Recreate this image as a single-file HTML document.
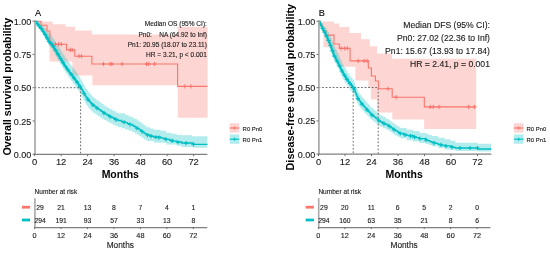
<!DOCTYPE html><html><head><meta charset="utf-8"><style>html,body{margin:0;padding:0;background:#fff;overflow:hidden}svg{display:block;filter:blur(0.3px);font-family:"Liberation Sans", sans-serif;}</style></head><body>
<svg width="550" height="253" viewBox="0 0 550 253">
<rect width="550" height="253" fill="#fff"/>
<path d="M38.60,21.40 L52.70,21.40 L52.70,24.20 L65.60,24.20 L65.60,26.80 L75.10,26.80 L75.10,30.40 L91.90,30.40 L91.90,34.40 L177.80,34.40 L177.80,26.70 L207.60,26.70 L207.60,117.80 L177.80,117.80 L177.80,85.20 L92.40,85.20 L92.40,75.60 L72.40,75.60 L72.40,61.40 L49.50,61.40 L49.50,42.50 L47.50,38.50 L45.00,33.50 L42.50,29.50 L40.60,26.50 L40.60,24.00 L38.60,24.00 Z" fill="#F8766D" fill-opacity="0.30"/>
<path d="M34.60,21.20 L36.00,21.20 L36.00,21.00 L38.07,21.00 L38.07,22.33 L40.13,22.33 L40.13,23.67 L42.20,23.67 L42.20,25.00 L43.47,25.00 L43.47,26.50 L44.73,26.50 L44.73,28.00 L46.00,28.00 L46.00,29.50 L46.75,29.50 L46.75,30.75 L47.50,30.75 L47.50,32.00 L48.25,32.00 L48.25,33.25 L49.00,33.25 L49.00,34.50 L51.70,34.50 L51.70,36.50 L52.56,36.50 L52.56,37.80 L53.42,37.80 L53.42,39.10 L54.28,39.10 L54.28,40.40 L55.14,40.40 L55.14,41.70 L56.00,41.70 L56.00,43.00 L56.84,43.00 L56.84,44.30 L57.68,44.30 L57.68,45.60 L58.52,45.60 L58.52,46.90 L59.36,46.90 L59.36,48.20 L60.20,48.20 L60.20,49.50 L61.04,49.50 L61.04,50.90 L61.88,50.90 L61.88,52.30 L62.72,52.30 L62.72,53.70 L63.56,53.70 L63.56,55.10 L64.40,55.10 L64.40,56.50 L65.40,56.50 L65.40,57.90 L66.40,57.90 L66.40,59.30 L67.40,59.30 L67.40,60.70 L68.40,60.70 L68.40,62.10 L69.40,62.10 L69.40,63.50 L70.35,63.50 L70.35,64.75 L71.30,64.75 L71.30,66.00 L72.25,66.00 L72.25,67.25 L73.20,67.25 L73.20,68.50 L74.33,68.50 L74.33,70.03 L75.45,70.03 L75.45,71.55 L76.58,71.55 L76.58,73.07 L77.70,73.07 L77.70,74.60 L78.47,74.60 L78.47,75.90 L79.25,75.90 L79.25,77.20 L80.03,77.20 L80.03,78.50 L80.80,78.50 L80.80,79.80 L81.54,79.80 L81.54,81.11 L82.29,81.11 L82.29,82.43 L83.03,82.43 L83.03,83.74 L83.77,83.74 L83.77,85.06 L84.51,85.06 L84.51,86.37 L85.26,86.37 L85.26,87.69 L86.00,87.69 L86.00,89.00 L87.17,89.00 L87.17,90.57 L88.33,90.57 L88.33,92.13 L89.50,92.13 L89.50,93.70 L91.00,93.70 L91.00,95.40 L92.50,95.40 L92.50,97.10 L94.27,97.10 L94.27,98.43 L96.03,98.43 L96.03,99.77 L97.80,99.77 L97.80,101.10 L99.80,101.10 L99.80,102.57 L101.80,102.57 L101.80,104.03 L103.80,104.03 L103.80,105.50 L105.77,105.50 L105.77,106.73 L107.73,106.73 L107.73,107.97 L109.70,107.97 L109.70,109.20 L112.65,109.20 L112.65,110.80 L115.60,110.80 L115.60,112.40 L118.00,112.40 L118.00,113.30 L125.10,113.30 L125.10,115.10 L128.65,115.10 L128.65,116.40 L132.20,116.40 L132.20,117.70 L134.60,117.70 L134.60,119.10 L137.00,119.10 L137.00,120.50 L139.40,120.50 L139.40,121.90 L141.18,121.90 L141.18,123.22 L142.95,123.22 L142.95,124.55 L144.72,124.55 L144.72,125.87 L146.50,125.87 L146.50,127.20 L150.05,127.20 L150.05,128.50 L153.60,128.50 L153.60,129.80 L160.70,129.80 L160.70,130.70 L166.30,130.70 L166.30,132.70 L171.45,132.70 L171.45,133.85 L176.60,133.85 L176.60,135.00 L181.70,135.00 L181.70,135.30 L192.00,135.30 L192.00,136.30 L193.50,136.30 L193.50,136.30 L207.40,136.30 L207.40,136.30 L207.40,147.80 L207.40,147.80 L193.50,147.80 L193.50,147.10 L192.00,147.10 L192.00,147.10 L181.70,147.10 L181.70,145.80 L176.60,145.80 L176.60,144.60 L166.30,144.60 L166.30,142.80 L160.70,142.80 L160.70,142.60 L153.60,142.60 L153.60,141.00 L146.50,141.00 L146.50,139.40 L144.13,139.40 L144.13,137.80 L141.77,137.80 L141.77,136.20 L139.40,136.20 L139.40,134.80 L137.00,134.80 L137.00,133.40 L134.60,133.40 L134.60,132.00 L132.20,132.00 L132.20,130.70 L128.65,130.70 L128.65,129.40 L125.10,129.40 L125.10,128.35 L121.55,128.35 L121.55,127.30 L118.00,127.30 L118.00,126.10 L115.60,126.10 L115.60,124.70 L112.65,124.70 L112.65,123.30 L109.70,123.30 L109.70,121.70 L106.75,121.70 L106.75,120.10 L103.80,120.10 L103.80,118.77 L101.80,118.77 L101.80,117.43 L99.80,117.43 L99.80,116.10 L97.80,116.10 L97.80,114.87 L96.03,114.87 L96.03,113.63 L94.27,113.63 L94.27,112.40 L92.50,112.40 L92.50,110.95 L91.00,110.95 L91.00,109.50 L89.50,109.50 L89.50,107.93 L88.33,107.93 L88.33,106.37 L87.17,106.37 L87.17,104.80 L86.00,104.80 L86.00,103.37 L85.26,103.37 L85.26,101.94 L84.51,101.94 L84.51,100.51 L83.77,100.51 L83.77,99.09 L83.03,99.09 L83.03,97.66 L82.29,97.66 L82.29,96.23 L81.54,96.23 L81.54,94.80 L80.80,94.80 L80.80,93.23 L79.77,93.23 L79.77,91.67 L78.73,91.67 L78.73,90.10 L77.70,90.10 L77.70,88.78 L76.80,88.78 L76.80,87.46 L75.90,87.46 L75.90,86.14 L75.00,86.14 L75.00,84.82 L74.10,84.82 L74.10,83.50 L73.20,83.50 L73.20,82.25 L72.25,82.25 L72.25,81.00 L71.30,81.00 L71.30,79.75 L70.35,79.75 L70.35,78.50 L69.40,78.50 L69.40,77.00 L68.40,77.00 L68.40,75.50 L67.40,75.50 L67.40,74.00 L66.40,74.00 L66.40,72.50 L65.40,72.50 L65.40,71.00 L64.40,71.00 L64.40,69.60 L63.56,69.60 L63.56,68.20 L62.72,68.20 L62.72,66.80 L61.88,66.80 L61.88,65.40 L61.04,65.40 L61.04,64.00 L60.20,64.00 L60.20,62.54 L59.36,62.54 L59.36,61.08 L58.52,61.08 L58.52,59.62 L57.68,59.62 L57.68,58.16 L56.84,58.16 L56.84,56.70 L56.00,56.70 L56.00,55.20 L55.14,55.20 L55.14,53.70 L54.28,53.70 L54.28,52.20 L53.42,52.20 L53.42,50.70 L52.56,50.70 L52.56,49.20 L51.70,49.20 L51.70,47.75 L50.35,47.75 L50.35,46.30 L49.00,46.30 L49.00,44.80 L48.25,44.80 L48.25,43.30 L47.50,43.30 L47.50,41.80 L46.75,41.80 L46.75,40.30 L46.00,40.30 L46.00,38.88 L45.24,38.88 L45.24,37.46 L44.48,37.46 L44.48,36.04 L43.72,36.04 L43.72,34.62 L42.96,34.62 L42.96,33.20 L42.20,33.20 L42.20,31.74 L41.31,31.74 L41.31,30.29 L40.43,30.29 L40.43,28.83 L39.54,28.83 L39.54,27.37 L38.66,27.37 L38.66,25.91 L37.77,25.91 L37.77,24.46 L36.89,24.46 L36.89,23.00 L36.00,23.00 L36.00,21.20 L34.60,21.20 Z" fill="#00BFC4" fill-opacity="0.30"/>
<path d="M34.60,87.7 H80.6 V154.20" fill="none" stroke="#666" stroke-width="0.95" stroke-dasharray="1.8,1.75"/>
<path d="M34.6,21.3 H41.0 V25.3 H47.0 V31.0 H49.8 V44.3 H66.6 V49.9 H74.8 V56.2 H91.9 V64.0 H177.6 V86.4 H207.4" fill="none" stroke="#F8766D" stroke-width="1.1"/>
<path d="M34.60,21.20 H36.00 V22.00 H36.69 V22.89 H37.38 V23.78 H38.07 V24.67 H38.76 V25.56 H39.44 V26.44 H40.13 V27.33 H40.82 V28.22 H41.51 V29.11 H42.20 V30.00 H42.74 V30.86 H43.29 V31.71 H43.83 V32.57 H44.37 V33.43 H44.91 V34.29 H45.46 V35.14 H46.00 V36.00 H46.50 V36.92 H47.00 V37.83 H47.50 V38.75 H48.00 V39.67 H48.50 V40.58 H49.00 V41.50 H49.90 V42.33 H50.80 V43.17 H51.70 V44.00 H52.24 V44.88 H52.78 V45.75 H53.31 V46.62 H53.85 V47.50 H54.39 V48.38 H54.92 V49.25 H55.46 V50.12 H56.00 V51.00 H56.52 V51.88 H57.05 V52.75 H57.58 V53.62 H58.10 V54.50 H58.62 V55.38 H59.15 V56.25 H59.68 V57.12 H60.20 V58.00 H60.73 V58.88 H61.25 V59.75 H61.78 V60.62 H62.30 V61.50 H62.83 V62.38 H63.35 V63.25 H63.88 V64.12 H64.40 V65.00 H65.03 V65.88 H65.65 V66.75 H66.28 V67.62 H66.90 V68.50 H67.53 V69.38 H68.15 V70.25 H68.78 V71.12 H69.40 V72.00 H70.03 V72.83 H70.67 V73.67 H71.30 V74.50 H71.93 V75.33 H72.57 V76.17 H73.20 V77.00 H73.84 V77.87 H74.49 V78.74 H75.13 V79.61 H75.77 V80.49 H76.41 V81.36 H77.06 V82.23 H77.70 V83.10 H78.32 V84.04 H78.94 V84.98 H79.56 V85.92 H80.18 V86.86 H80.80 V87.80 H81.32 V88.72 H81.84 V89.64 H82.36 V90.56 H82.88 V91.48 H83.40 V92.40 H83.92 V93.32 H84.44 V94.24 H84.96 V95.16 H85.48 V96.08 H86.00 V97.00 H86.70 V97.94 H87.40 V98.88 H88.10 V99.82 H88.80 V100.76 H89.50 V101.70 H90.50 V102.73 H91.50 V103.77 H92.50 V104.80 H93.83 V105.80 H95.15 V106.80 H96.47 V107.80 H97.80 V108.80 H99.00 V109.64 H100.20 V110.48 H101.40 V111.32 H102.60 V112.16 H103.80 V113.00 H105.28 V113.88 H106.75 V114.75 H108.22 V115.62 H109.70 V116.50 H111.67 V117.50 H113.63 V118.50 H115.60 V119.50 H118.00 V120.50 H121.55 V121.55 H125.10 V122.60 H127.47 V123.53 H129.83 V124.47 H132.20 V125.40 H133.64 V126.26 H135.08 V127.12 H136.52 V127.98 H137.96 V128.84 H139.40 V129.70 H140.58 V130.53 H141.77 V131.37 H142.95 V132.20 H144.13 V133.03 H145.32 V133.87 H146.50 V134.70 H148.87 V135.47 H151.23 V136.23 H153.60 V137.00 H160.70 V137.80 H163.50 V138.60 H166.30 V139.40 H169.73 V140.27 H173.17 V141.13 H176.60 V142.00 H181.70 V143.00 H192.00 V143.30 H193.50 V144.30 H207.40 V144.30" fill="none" stroke="#00BFC4" stroke-width="1.3"/>
<path d="M36.00,22.00 L42.20,30.00 L46.00,36.00 L49.00,41.50 L51.70,44.00 L56.00,51.00 L60.20,58.00 L64.40,65.00 L69.40,72.00 L73.20,77.00 L77.70,83.10 L80.80,87.80" fill="none" stroke="#00BFC4" stroke-width="1.70" stroke-linejoin="round"/>
<path d="M53.40,44.30h4.20M55.50,42.20v4.20" stroke="#F8766D" stroke-width="1.00"/>
<path d="M56.40,44.30h4.20M58.50,42.20v4.20" stroke="#F8766D" stroke-width="1.00"/>
<path d="M59.20,44.30h4.20M61.30,42.20v4.20" stroke="#F8766D" stroke-width="1.00"/>
<path d="M68.10,49.90h4.20M70.20,47.80v4.20" stroke="#F8766D" stroke-width="1.00"/>
<path d="M70.10,49.90h4.20M72.20,47.80v4.20" stroke="#F8766D" stroke-width="1.00"/>
<path d="M76.90,56.20h4.20M79.00,54.10v4.20" stroke="#F8766D" stroke-width="1.00"/>
<path d="M79.40,56.20h4.20M81.50,54.10v4.20" stroke="#F8766D" stroke-width="1.00"/>
<path d="M101.40,64.00h4.20M103.50,61.90v4.20" stroke="#F8766D" stroke-width="1.00"/>
<path d="M108.10,64.00h4.20M110.20,61.90v4.20" stroke="#F8766D" stroke-width="1.00"/>
<path d="M109.80,64.00h4.20M111.90,61.90v4.20" stroke="#F8766D" stroke-width="1.00"/>
<path d="M119.90,64.00h4.20M122.00,61.90v4.20" stroke="#F8766D" stroke-width="1.00"/>
<path d="M144.40,64.00h4.20M146.50,61.90v4.20" stroke="#F8766D" stroke-width="1.00"/>
<path d="M146.70,64.00h4.20M148.80,61.90v4.20" stroke="#F8766D" stroke-width="1.00"/>
<path d="M152.40,64.00h4.20M154.50,61.90v4.20" stroke="#F8766D" stroke-width="1.00"/>
<path d="M182.70,86.40h4.20M184.80,84.30v4.20" stroke="#F8766D" stroke-width="1.00"/>
<path d="M188.70,86.40h4.20M190.80,84.30v4.20" stroke="#F8766D" stroke-width="1.00"/>
<path d="M34.90,23.29h4.20M37.00,21.19v4.20" stroke="#00BFC4" stroke-width="1.15"/>
<path d="M36.90,25.87h4.20M39.00,23.77v4.20" stroke="#00BFC4" stroke-width="1.15"/>
<path d="M38.90,28.45h4.20M41.00,26.35v4.20" stroke="#00BFC4" stroke-width="1.15"/>
<path d="M40.90,31.26h4.20M43.00,29.16v4.20" stroke="#00BFC4" stroke-width="1.15"/>
<path d="M42.90,34.42h4.20M45.00,32.32v4.20" stroke="#00BFC4" stroke-width="1.15"/>
<path d="M44.90,37.83h4.20M47.00,35.73v4.20" stroke="#00BFC4" stroke-width="1.15"/>
<path d="M46.90,41.50h4.20M49.00,39.40v4.20" stroke="#00BFC4" stroke-width="1.15"/>
<path d="M48.90,43.35h4.20M51.00,41.25v4.20" stroke="#00BFC4" stroke-width="1.15"/>
<path d="M50.90,46.12h4.20M53.00,44.02v4.20" stroke="#00BFC4" stroke-width="1.15"/>
<path d="M53.40,50.19h4.20M55.50,48.09v4.20" stroke="#00BFC4" stroke-width="1.15"/>
<path d="M55.90,54.33h4.20M58.00,52.23v4.20" stroke="#00BFC4" stroke-width="1.15"/>
<path d="M58.40,58.50h4.20M60.50,56.40v4.20" stroke="#00BFC4" stroke-width="1.15"/>
<path d="M60.90,62.67h4.20M63.00,60.57v4.20" stroke="#00BFC4" stroke-width="1.15"/>
<path d="M63.40,66.54h4.20M65.50,64.44v4.20" stroke="#00BFC4" stroke-width="1.15"/>
<path d="M65.90,70.04h4.20M68.00,67.94v4.20" stroke="#00BFC4" stroke-width="1.15"/>
<path d="M68.90,74.11h4.20M71.00,72.01v4.20" stroke="#00BFC4" stroke-width="1.15"/>
<path d="M71.90,78.08h4.20M74.00,75.98v4.20" stroke="#00BFC4" stroke-width="1.15"/>
<path d="M74.90,82.15h4.20M77.00,80.05v4.20" stroke="#00BFC4" stroke-width="1.15"/>
<path d="M77.90,86.59h4.20M80.00,84.49v4.20" stroke="#00BFC4" stroke-width="1.15"/>
<path d="M81.90,93.46h4.20M84.00,91.36v4.20" stroke="#00BFC4" stroke-width="1.15"/>
<path d="M85.90,99.69h4.20M88.00,97.59v4.20" stroke="#00BFC4" stroke-width="1.15"/>
<path d="M90.90,105.18h4.20M93.00,103.08v4.20" stroke="#00BFC4" stroke-width="1.15"/>
<path d="M94.90,108.20h4.20M97.00,106.10v4.20" stroke="#00BFC4" stroke-width="1.15"/>
<path d="M101.90,113.12h4.20M104.00,111.02v4.20" stroke="#00BFC4" stroke-width="1.15"/>
<path d="M107.90,116.65h4.20M110.00,114.55v4.20" stroke="#00BFC4" stroke-width="1.15"/>
<path d="M113.90,119.67h4.20M116.00,117.57v4.20" stroke="#00BFC4" stroke-width="1.15"/>
<path d="M121.90,122.27h4.20M124.00,120.17v4.20" stroke="#00BFC4" stroke-width="1.15"/>
<path d="M127.90,124.53h4.20M130.00,122.43v4.20" stroke="#00BFC4" stroke-width="1.15"/>
<path d="M134.90,128.27h4.20M137.00,126.17v4.20" stroke="#00BFC4" stroke-width="1.15"/>
<path d="M139.90,131.53h4.20M142.00,129.43v4.20" stroke="#00BFC4" stroke-width="1.15"/>
<path d="M145.40,135.02h4.20M147.50,132.92v4.20" stroke="#00BFC4" stroke-width="1.15"/>
<path d="M148.90,136.16h4.20M151.00,134.06v4.20" stroke="#00BFC4" stroke-width="1.15"/>
<path d="M153.70,137.25h4.20M155.80,135.15v4.20" stroke="#00BFC4" stroke-width="1.15"/>
<path d="M156.90,137.61h4.20M159.00,135.51v4.20" stroke="#00BFC4" stroke-width="1.15"/>
<path d="M163.90,139.31h4.20M166.00,137.21v4.20" stroke="#00BFC4" stroke-width="1.15"/>
<path d="M169.90,140.84h4.20M172.00,138.74v4.20" stroke="#00BFC4" stroke-width="1.15"/>
<path d="M175.90,142.27h4.20M178.00,140.17v4.20" stroke="#00BFC4" stroke-width="1.15"/>
<path d="M183.90,143.13h4.20M186.00,141.03v4.20" stroke="#00BFC4" stroke-width="1.15"/>
<path d="M191.40,144.30h4.20M193.50,142.20v4.20" stroke="#00BFC4" stroke-width="1.15"/>
<path d="M35.00,20.40 V154.80" fill="none" stroke="#a8a8a8" stroke-width="1.7"/>
<path d="M34.20,154.30 H207.40" fill="none" stroke="#808080" stroke-width="1.25"/>
<path d="M34.60,154.20 h-2" stroke="#6b6b6b" stroke-width="1"/>
<text x="31.30" y="157.80" font-size="9.00" text-anchor="end" font-weight="normal" fill="#1a1a1a" stroke="#1a1a1a" stroke-width="0.12" >0.00</text>
<path d="M34.60,120.95 h-2" stroke="#6b6b6b" stroke-width="1"/>
<text x="31.30" y="124.55" font-size="9.00" text-anchor="end" font-weight="normal" fill="#1a1a1a" stroke="#1a1a1a" stroke-width="0.12" >0.25</text>
<path d="M34.60,87.70 h-2" stroke="#6b6b6b" stroke-width="1"/>
<text x="31.30" y="91.30" font-size="9.00" text-anchor="end" font-weight="normal" fill="#1a1a1a" stroke="#1a1a1a" stroke-width="0.12" >0.50</text>
<path d="M34.60,54.45 h-2" stroke="#6b6b6b" stroke-width="1"/>
<text x="31.30" y="58.05" font-size="9.00" text-anchor="end" font-weight="normal" fill="#1a1a1a" stroke="#1a1a1a" stroke-width="0.12" >0.75</text>
<path d="M34.60,21.20 h-2" stroke="#6b6b6b" stroke-width="1"/>
<text x="31.30" y="24.80" font-size="9.00" text-anchor="end" font-weight="normal" fill="#1a1a1a" stroke="#1a1a1a" stroke-width="0.12" >1.00</text>
<path d="M34.60,154.20 v2" stroke="#6b6b6b" stroke-width="1"/>
<text x="34.60" y="165.30" font-size="9.40" text-anchor="middle" font-weight="normal" fill="#1a1a1a" stroke="#1a1a1a" stroke-width="0.12" >0</text>
<path d="M61.10,154.20 v2" stroke="#6b6b6b" stroke-width="1"/>
<text x="61.10" y="165.30" font-size="9.40" text-anchor="middle" font-weight="normal" fill="#1a1a1a" stroke="#1a1a1a" stroke-width="0.12" >12</text>
<path d="M87.60,154.20 v2" stroke="#6b6b6b" stroke-width="1"/>
<text x="87.60" y="165.30" font-size="9.40" text-anchor="middle" font-weight="normal" fill="#1a1a1a" stroke="#1a1a1a" stroke-width="0.12" >24</text>
<path d="M114.10,154.20 v2" stroke="#6b6b6b" stroke-width="1"/>
<text x="114.10" y="165.30" font-size="9.40" text-anchor="middle" font-weight="normal" fill="#1a1a1a" stroke="#1a1a1a" stroke-width="0.12" >36</text>
<path d="M140.60,154.20 v2" stroke="#6b6b6b" stroke-width="1"/>
<text x="140.60" y="165.30" font-size="9.40" text-anchor="middle" font-weight="normal" fill="#1a1a1a" stroke="#1a1a1a" stroke-width="0.12" >48</text>
<path d="M167.10,154.20 v2" stroke="#6b6b6b" stroke-width="1"/>
<text x="167.10" y="165.30" font-size="9.40" text-anchor="middle" font-weight="normal" fill="#1a1a1a" stroke="#1a1a1a" stroke-width="0.12" >60</text>
<path d="M193.60,154.20 v2" stroke="#6b6b6b" stroke-width="1"/>
<text x="193.60" y="165.30" font-size="9.40" text-anchor="middle" font-weight="normal" fill="#1a1a1a" stroke="#1a1a1a" stroke-width="0.12" >72</text>
<text x="120.30" y="177.70" font-size="10.50" text-anchor="middle" font-weight="bold" fill="#000" >Months</text>
<text x="34.90" y="15.90" font-size="9.20" text-anchor="start" font-weight="normal" fill="#000" stroke="#000" stroke-width="0.12" >A</text>
<text transform="translate(10.50,86.70) rotate(-90)" font-size="10.72" font-weight="bold" text-anchor="middle" fill="#000">Overall survival probability</text>
<text x="206.90" y="26.30" font-size="6.55" text-anchor="end" font-weight="normal" fill="#1a1a1a" stroke="#1a1a1a" stroke-width="0.12" xml:space="preserve">Median OS (95% CI):</text>
<text x="206.90" y="36.65" font-size="6.55" text-anchor="end" font-weight="normal" fill="#1a1a1a" stroke="#1a1a1a" stroke-width="0.12" xml:space="preserve">Pn0:    NA (64.92 to Inf)</text>
<text x="206.90" y="47.00" font-size="6.55" text-anchor="end" font-weight="normal" fill="#1a1a1a" stroke="#1a1a1a" stroke-width="0.12" xml:space="preserve">Pn1: 20.95 (18.07 to 23.11)</text>
<text x="206.90" y="57.35" font-size="6.55" text-anchor="end" font-weight="normal" fill="#1a1a1a" stroke="#1a1a1a" stroke-width="0.12" xml:space="preserve">HR = 3.21, p &lt; 0.001</text>
<path d="M321.60,21.40 L334.00,21.40 L334.00,23.60 L339.30,23.60 L339.30,27.10 L349.40,27.10 L349.40,33.00 L361.00,33.00 L361.00,39.20 L369.90,39.20 L369.90,46.30 L377.00,46.30 L377.00,53.40 L392.10,53.40 L392.10,58.80 L476.20,58.80 L476.20,129.00 L424.20,129.00 L424.20,119.50 L392.30,119.50 L392.30,112.40 L377.10,112.40 L377.10,99.50 L370.80,99.50 L370.80,87.60 L368.30,87.60 L368.30,80.60 L355.40,80.60 L355.40,66.70 L340.50,66.70 L336.00,60.00 L333.00,53.00 L330.50,47.30 L323.50,47.30 L323.50,28.00 L321.60,27.00 Z" fill="#F8766D" fill-opacity="0.30"/>
<path d="M318.50,21.20 L319.60,21.20 L319.60,20.80 L320.70,20.80 L320.70,22.45 L321.80,22.45 L321.80,24.10 L323.07,24.10 L323.07,25.47 L324.33,25.47 L324.33,26.83 L325.60,26.83 L325.60,28.20 L326.43,28.20 L326.43,29.48 L327.25,29.48 L327.25,30.75 L328.07,30.75 L328.07,32.02 L328.90,32.02 L328.90,33.30 L329.57,33.30 L329.57,34.82 L330.25,34.82 L330.25,36.35 L330.93,36.35 L330.93,37.88 L331.60,37.88 L331.60,39.40 L332.12,39.40 L332.12,40.74 L332.64,40.74 L332.64,42.08 L333.16,42.08 L333.16,43.42 L333.68,43.42 L333.68,44.76 L334.20,44.76 L334.20,46.10 L334.85,46.10 L334.85,47.43 L335.50,47.43 L335.50,48.77 L336.15,48.77 L336.15,50.10 L336.80,50.10 L336.80,51.43 L337.45,51.43 L337.45,52.77 L338.10,52.77 L338.10,54.10 L338.74,54.10 L338.74,55.54 L339.39,55.54 L339.39,56.99 L340.03,56.99 L340.03,58.43 L340.67,58.43 L340.67,59.87 L341.31,59.87 L341.31,61.31 L341.96,61.31 L341.96,62.76 L342.60,62.76 L342.60,64.20 L343.40,64.20 L343.40,65.57 L344.20,65.57 L344.20,66.94 L345.00,66.94 L345.00,68.31 L345.80,68.31 L345.80,69.69 L346.60,69.69 L346.60,71.06 L347.40,71.06 L347.40,72.43 L348.20,72.43 L348.20,73.80 L349.24,73.80 L349.24,75.16 L350.28,75.16 L350.28,76.52 L351.32,76.52 L351.32,77.88 L352.36,77.88 L352.36,79.24 L353.40,79.24 L353.40,80.60 L353.96,80.60 L353.96,81.92 L354.51,81.92 L354.51,83.24 L355.07,83.24 L355.07,84.57 L355.62,84.57 L355.62,85.89 L356.18,85.89 L356.18,87.21 L356.73,87.21 L356.73,88.53 L357.29,88.53 L357.29,89.86 L357.84,89.86 L357.84,91.18 L358.40,91.18 L358.40,92.50 L359.47,92.50 L359.47,93.90 L360.55,93.90 L360.55,95.30 L361.62,95.30 L361.62,96.70 L362.70,96.70 L362.70,98.10 L363.94,98.10 L363.94,99.53 L365.19,99.53 L365.19,100.96 L366.43,100.96 L366.43,102.39 L367.67,102.39 L367.67,103.81 L368.91,103.81 L368.91,105.24 L370.16,105.24 L370.16,106.67 L371.40,106.67 L371.40,108.10 L373.14,108.10 L373.14,109.58 L374.88,109.58 L374.88,111.06 L376.62,111.06 L376.62,112.54 L378.36,112.54 L378.36,114.02 L380.10,114.02 L380.10,115.50 L383.00,115.50 L383.00,117.07 L385.90,117.07 L385.90,118.63 L388.80,118.63 L388.80,120.20 L390.53,120.20 L390.53,121.53 L392.27,121.53 L392.27,122.87 L394.00,122.87 L394.00,124.20 L396.10,124.20 L396.10,125.47 L398.20,125.47 L398.20,126.73 L400.30,126.73 L400.30,128.00 L406.70,128.00 L406.70,129.80 L413.00,129.80 L413.00,131.00 L419.30,131.00 L419.30,132.80 L425.60,132.80 L425.60,133.80 L428.75,133.80 L428.75,134.90 L431.90,134.90 L431.90,136.00 L438.20,136.00 L438.20,137.70 L444.60,137.70 L444.60,139.30 L450.30,139.30 L450.30,140.80 L455.40,140.80 L455.40,142.80 L477.50,142.80 L477.50,142.80 L477.60,142.80 L477.60,143.80 L491.20,143.80 L491.20,143.80 L491.20,151.50 L491.20,151.50 L477.60,151.50 L477.60,151.00 L477.50,151.00 L477.50,151.00 L455.40,151.00 L455.40,150.10 L450.30,150.10 L450.30,149.60 L444.60,149.60 L444.60,148.10 L438.20,148.10 L438.20,146.20 L431.90,146.20 L431.90,145.10 L428.75,145.10 L428.75,144.00 L425.60,144.00 L425.60,143.10 L419.30,143.10 L419.30,141.50 L413.00,141.50 L413.00,140.20 L406.70,140.20 L406.70,138.30 L400.30,138.30 L400.30,137.10 L398.20,137.10 L398.20,135.90 L396.10,135.90 L396.10,134.70 L394.00,134.70 L394.00,133.47 L392.27,133.47 L392.27,132.23 L390.53,132.23 L390.53,131.00 L388.80,131.00 L388.80,129.60 L385.90,129.60 L385.90,128.20 L383.00,128.20 L383.00,126.80 L380.10,126.80 L380.10,125.48 L378.36,125.48 L378.36,124.16 L376.62,124.16 L376.62,122.84 L374.88,122.84 L374.88,121.52 L373.14,121.52 L373.14,120.20 L371.40,120.20 L371.40,118.70 L369.95,118.70 L369.95,117.20 L368.50,117.20 L368.50,115.70 L367.05,115.70 L367.05,114.20 L365.60,114.20 L365.60,112.70 L364.15,112.70 L364.15,111.20 L362.70,111.20 L362.70,109.85 L361.62,109.85 L361.62,108.50 L360.55,108.50 L360.55,107.15 L359.47,107.15 L359.47,105.80 L358.40,105.80 L358.40,104.34 L357.77,104.34 L357.77,102.88 L357.15,102.88 L357.15,101.41 L356.52,101.41 L356.52,99.95 L355.90,99.95 L355.90,98.49 L355.27,98.49 L355.27,97.02 L354.65,97.02 L354.65,95.56 L354.02,95.56 L354.02,94.10 L353.40,94.10 L353.40,92.78 L352.36,92.78 L352.36,91.46 L351.32,91.46 L351.32,90.14 L350.28,90.14 L350.28,88.82 L349.24,88.82 L349.24,87.50 L348.20,87.50 L348.20,85.98 L347.27,85.98 L347.27,84.47 L346.33,84.47 L346.33,82.95 L345.40,82.95 L345.40,81.43 L344.47,81.43 L344.47,79.92 L343.53,79.92 L343.53,78.40 L342.60,78.40 L342.60,77.07 L341.96,77.07 L341.96,75.74 L341.31,75.74 L341.31,74.41 L340.67,74.41 L340.67,73.09 L340.03,73.09 L340.03,71.76 L339.39,71.76 L339.39,70.43 L338.74,70.43 L338.74,69.10 L338.10,69.10 L338.10,67.60 L337.32,67.60 L337.32,66.10 L336.54,66.10 L336.54,64.60 L335.76,64.60 L335.76,63.10 L334.98,63.10 L334.98,61.60 L334.20,61.60 L334.20,60.12 L333.68,60.12 L333.68,58.64 L333.16,58.64 L333.16,57.16 L332.64,57.16 L332.64,55.68 L332.12,55.68 L332.12,54.20 L331.60,54.20 L331.60,52.68 L331.06,52.68 L331.06,51.16 L330.52,51.16 L330.52,49.64 L329.98,49.64 L329.98,48.12 L329.44,48.12 L329.44,46.60 L328.90,46.60 L328.90,45.25 L328.35,45.25 L328.35,43.90 L327.80,43.90 L327.80,42.55 L327.25,42.55 L327.25,41.20 L326.70,41.20 L326.70,39.85 L326.15,39.85 L326.15,38.50 L325.60,38.50 L325.60,37.10 L324.97,37.10 L324.97,35.70 L324.33,35.70 L324.33,34.30 L323.70,34.30 L323.70,32.90 L323.07,32.90 L323.07,31.50 L322.43,31.50 L322.43,30.10 L321.80,30.10 L321.80,28.64 L321.36,28.64 L321.36,27.18 L320.92,27.18 L320.92,25.72 L320.48,25.72 L320.48,24.26 L320.04,24.26 L320.04,22.80 L319.60,22.80 L319.60,21.20 L318.50,21.20 Z" fill="#00BFC4" fill-opacity="0.30"/>
<path d="M318.50,87.5 H378.2 V154.10 M353.2,87.5 V154.10" fill="none" stroke="#666" stroke-width="0.95" stroke-dasharray="1.8,1.75"/>
<path d="M318.5,21.3 H320.2 V25.8 H322.5 V30.5 H325.8 V35.1 H334 V44 H339.3 V48.4 H350.1 V60.9 H368.3 V68 H371.4 V76 H375.4 V81 H378.5 V88.7 H392.2 V97.2 H424.3 V106.9 H475.6" fill="none" stroke="#F8766D" stroke-width="1.1"/>
<path d="M318.50,21.20 H319.60 V21.80 H319.97 V22.68 H320.33 V23.57 H320.70 V24.45 H321.07 V25.33 H321.43 V26.22 H321.80 V27.10 H322.28 V27.99 H322.75 V28.88 H323.23 V29.76 H323.70 V30.65 H324.18 V31.54 H324.65 V32.43 H325.12 V33.31 H325.60 V34.20 H326.01 V35.09 H326.43 V35.98 H326.84 V36.86 H327.25 V37.75 H327.66 V38.64 H328.07 V39.52 H328.49 V40.41 H328.90 V41.30 H329.24 V42.19 H329.57 V43.07 H329.91 V43.96 H330.25 V44.85 H330.59 V45.74 H330.93 V46.62 H331.26 V47.51 H331.60 V48.40 H331.93 V49.30 H332.25 V50.20 H332.57 V51.10 H332.90 V52.00 H333.23 V52.90 H333.55 V53.80 H333.88 V54.70 H334.20 V55.60 H334.69 V56.54 H335.18 V57.48 H335.66 V58.41 H336.15 V59.35 H336.64 V60.29 H337.12 V61.23 H337.61 V62.16 H338.10 V63.10 H338.55 V64.01 H339.00 V64.92 H339.45 V65.83 H339.90 V66.74 H340.35 V67.65 H340.80 V68.56 H341.25 V69.47 H341.70 V70.38 H342.15 V71.29 H342.60 V72.20 H343.16 V73.11 H343.72 V74.02 H344.28 V74.93 H344.84 V75.84 H345.40 V76.75 H345.96 V77.66 H346.52 V78.57 H347.08 V79.48 H347.64 V80.39 H348.20 V81.30 H348.94 V82.20 H349.69 V83.10 H350.43 V84.00 H351.17 V84.90 H351.91 V85.80 H352.66 V86.70 H353.40 V87.60 H353.78 V88.52 H354.17 V89.43 H354.55 V90.35 H354.94 V91.26 H355.32 V92.18 H355.71 V93.09 H356.09 V94.01 H356.48 V94.92 H356.86 V95.84 H357.25 V96.75 H357.63 V97.67 H358.02 V98.58 H358.40 V99.50 H359.12 V100.43 H359.83 V101.37 H360.55 V102.30 H361.27 V103.23 H361.98 V104.17 H362.70 V105.10 H363.49 V105.96 H364.28 V106.83 H365.07 V107.69 H365.86 V108.55 H366.65 V109.42 H367.45 V110.28 H368.24 V111.15 H369.03 V112.01 H369.82 V112.87 H370.61 V113.74 H371.40 V114.60 H372.49 V115.47 H373.57 V116.35 H374.66 V117.22 H375.75 V118.10 H376.84 V118.97 H377.93 V119.85 H379.01 V120.72 H380.10 V121.60 H381.84 V122.48 H383.58 V123.36 H385.32 V124.24 H387.06 V125.12 H388.80 V126.00 H390.10 V126.92 H391.40 V127.85 H392.70 V128.77 H394.00 V129.70 H395.57 V130.65 H397.15 V131.60 H398.73 V132.55 H400.30 V133.50 H403.50 V134.45 H406.70 V135.40 H413.00 V136.70 H416.15 V137.65 H419.30 V138.60 H425.60 V139.80 H427.70 V140.67 H429.80 V141.53 H431.90 V142.40 H435.05 V143.35 H438.20 V144.30 H441.40 V145.05 H444.60 V145.80 H450.30 V146.60 H452.85 V147.30 H455.40 V148.00 H477.50 V148.00 H477.60 V149.00 H491.20 V149.00" fill="none" stroke="#00BFC4" stroke-width="1.3"/>
<path d="M319.60,21.80 L321.80,27.10 L325.60,34.20 L328.90,41.30 L331.60,48.40 L334.20,55.60 L338.10,63.10 L342.60,72.20 L348.20,81.30 L353.40,87.60" fill="none" stroke="#00BFC4" stroke-width="1.70" stroke-linejoin="round"/>
<path d="M339.00,48.40h4.20M341.10,46.30v4.20" stroke="#F8766D" stroke-width="1.00"/>
<path d="M342.60,48.40h4.20M344.70,46.30v4.20" stroke="#F8766D" stroke-width="1.00"/>
<path d="M345.20,48.40h4.20M347.30,46.30v4.20" stroke="#F8766D" stroke-width="1.00"/>
<path d="M356.10,60.90h4.20M358.20,58.80v4.20" stroke="#F8766D" stroke-width="1.00"/>
<path d="M362.00,60.90h4.20M364.10,58.80v4.20" stroke="#F8766D" stroke-width="1.00"/>
<path d="M365.00,60.90h4.20M367.10,58.80v4.20" stroke="#F8766D" stroke-width="1.00"/>
<path d="M385.90,88.70h4.20M388.00,86.60v4.20" stroke="#F8766D" stroke-width="1.00"/>
<path d="M394.00,97.20h4.20M396.10,95.10v4.20" stroke="#F8766D" stroke-width="1.00"/>
<path d="M428.00,106.90h4.20M430.10,104.80v4.20" stroke="#F8766D" stroke-width="1.00"/>
<path d="M431.20,106.90h4.20M433.30,104.80v4.20" stroke="#F8766D" stroke-width="1.00"/>
<path d="M436.90,106.90h4.20M439.00,104.80v4.20" stroke="#F8766D" stroke-width="1.00"/>
<path d="M466.60,106.90h4.20M468.70,104.80v4.20" stroke="#F8766D" stroke-width="1.00"/>
<path d="M472.30,106.90h4.20M474.40,104.80v4.20" stroke="#F8766D" stroke-width="1.00"/>
<path d="M318.40,23.97h4.20M320.50,21.87v4.20" stroke="#00BFC4" stroke-width="1.15"/>
<path d="M320.40,28.41h4.20M322.50,26.31v4.20" stroke="#00BFC4" stroke-width="1.15"/>
<path d="M322.40,32.14h4.20M324.50,30.04v4.20" stroke="#00BFC4" stroke-width="1.15"/>
<path d="M324.40,36.14h4.20M326.50,34.04v4.20" stroke="#00BFC4" stroke-width="1.15"/>
<path d="M326.40,40.44h4.20M328.50,38.34v4.20" stroke="#00BFC4" stroke-width="1.15"/>
<path d="M328.40,45.51h4.20M330.50,43.41v4.20" stroke="#00BFC4" stroke-width="1.15"/>
<path d="M330.40,50.89h4.20M332.50,48.79v4.20" stroke="#00BFC4" stroke-width="1.15"/>
<path d="M332.40,56.18h4.20M334.50,54.08v4.20" stroke="#00BFC4" stroke-width="1.15"/>
<path d="M334.90,60.98h4.20M337.00,58.88v4.20" stroke="#00BFC4" stroke-width="1.15"/>
<path d="M337.40,65.93h4.20M339.50,63.83v4.20" stroke="#00BFC4" stroke-width="1.15"/>
<path d="M339.90,70.99h4.20M342.00,68.89v4.20" stroke="#00BFC4" stroke-width="1.15"/>
<path d="M342.40,75.29h4.20M344.50,73.19v4.20" stroke="#00BFC4" stroke-width="1.15"/>
<path d="M344.90,79.35h4.20M347.00,77.25v4.20" stroke="#00BFC4" stroke-width="1.15"/>
<path d="M347.90,83.48h4.20M350.00,81.38v4.20" stroke="#00BFC4" stroke-width="1.15"/>
<path d="M351.90,89.03h4.20M354.00,86.93v4.20" stroke="#00BFC4" stroke-width="1.15"/>
<path d="M355.90,98.55h4.20M358.00,96.45v4.20" stroke="#00BFC4" stroke-width="1.15"/>
<path d="M359.90,104.19h4.20M362.00,102.09v4.20" stroke="#00BFC4" stroke-width="1.15"/>
<path d="M364.90,109.80h4.20M367.00,107.70v4.20" stroke="#00BFC4" stroke-width="1.15"/>
<path d="M369.90,115.08h4.20M372.00,112.98v4.20" stroke="#00BFC4" stroke-width="1.15"/>
<path d="M376.90,120.71h4.20M379.00,118.61v4.20" stroke="#00BFC4" stroke-width="1.15"/>
<path d="M381.90,123.57h4.20M384.00,121.47v4.20" stroke="#00BFC4" stroke-width="1.15"/>
<path d="M387.10,126.28h4.20M389.20,124.18v4.20" stroke="#00BFC4" stroke-width="1.15"/>
<path d="M391.90,129.70h4.20M394.00,127.60v4.20" stroke="#00BFC4" stroke-width="1.15"/>
<path d="M398.20,133.50h4.20M400.30,131.40v4.20" stroke="#00BFC4" stroke-width="1.15"/>
<path d="M402.90,134.90h4.20M405.00,132.80v4.20" stroke="#00BFC4" stroke-width="1.15"/>
<path d="M408.40,136.18h4.20M410.50,134.08v4.20" stroke="#00BFC4" stroke-width="1.15"/>
<path d="M412.40,137.15h4.20M414.50,135.05v4.20" stroke="#00BFC4" stroke-width="1.15"/>
<path d="M417.90,138.73h4.20M420.00,136.63v4.20" stroke="#00BFC4" stroke-width="1.15"/>
<path d="M423.90,139.97h4.20M426.00,137.87v4.20" stroke="#00BFC4" stroke-width="1.15"/>
<path d="M431.90,143.03h4.20M434.00,140.93v4.20" stroke="#00BFC4" stroke-width="1.15"/>
<path d="M438.90,144.96h4.20M441.00,142.86v4.20" stroke="#00BFC4" stroke-width="1.15"/>
<path d="M443.90,146.00h4.20M446.00,143.90v4.20" stroke="#00BFC4" stroke-width="1.15"/>
<path d="M449.90,147.07h4.20M452.00,144.97v4.20" stroke="#00BFC4" stroke-width="1.15"/>
<path d="M457.90,148.00h4.20M460.00,145.90v4.20" stroke="#00BFC4" stroke-width="1.15"/>
<path d="M467.90,148.00h4.20M470.00,145.90v4.20" stroke="#00BFC4" stroke-width="1.15"/>
<path d="M475.40,148.00h4.20M477.50,145.90v4.20" stroke="#00BFC4" stroke-width="1.15"/>
<path d="M318.90,20.40 V154.70" fill="none" stroke="#a8a8a8" stroke-width="1.7"/>
<path d="M318.10,154.20 H491.40" fill="none" stroke="#808080" stroke-width="1.25"/>
<path d="M318.50,154.10 h-2" stroke="#6b6b6b" stroke-width="1"/>
<text x="315.20" y="157.70" font-size="9.00" text-anchor="end" font-weight="normal" fill="#1a1a1a" stroke="#1a1a1a" stroke-width="0.12" >0.00</text>
<path d="M318.50,120.88 h-2" stroke="#6b6b6b" stroke-width="1"/>
<text x="315.20" y="124.47" font-size="9.00" text-anchor="end" font-weight="normal" fill="#1a1a1a" stroke="#1a1a1a" stroke-width="0.12" >0.25</text>
<path d="M318.50,87.65 h-2" stroke="#6b6b6b" stroke-width="1"/>
<text x="315.20" y="91.25" font-size="9.00" text-anchor="end" font-weight="normal" fill="#1a1a1a" stroke="#1a1a1a" stroke-width="0.12" >0.50</text>
<path d="M318.50,54.42 h-2" stroke="#6b6b6b" stroke-width="1"/>
<text x="315.20" y="58.02" font-size="9.00" text-anchor="end" font-weight="normal" fill="#1a1a1a" stroke="#1a1a1a" stroke-width="0.12" >0.75</text>
<path d="M318.50,21.20 h-2" stroke="#6b6b6b" stroke-width="1"/>
<text x="315.20" y="24.80" font-size="9.00" text-anchor="end" font-weight="normal" fill="#1a1a1a" stroke="#1a1a1a" stroke-width="0.12" >1.00</text>
<path d="M318.50,154.10 v2" stroke="#6b6b6b" stroke-width="1"/>
<text x="318.50" y="165.20" font-size="9.40" text-anchor="middle" font-weight="normal" fill="#1a1a1a" stroke="#1a1a1a" stroke-width="0.12" >0</text>
<path d="M345.00,154.10 v2" stroke="#6b6b6b" stroke-width="1"/>
<text x="345.00" y="165.20" font-size="9.40" text-anchor="middle" font-weight="normal" fill="#1a1a1a" stroke="#1a1a1a" stroke-width="0.12" >12</text>
<path d="M371.50,154.10 v2" stroke="#6b6b6b" stroke-width="1"/>
<text x="371.50" y="165.20" font-size="9.40" text-anchor="middle" font-weight="normal" fill="#1a1a1a" stroke="#1a1a1a" stroke-width="0.12" >24</text>
<path d="M398.00,154.10 v2" stroke="#6b6b6b" stroke-width="1"/>
<text x="398.00" y="165.20" font-size="9.40" text-anchor="middle" font-weight="normal" fill="#1a1a1a" stroke="#1a1a1a" stroke-width="0.12" >36</text>
<path d="M424.50,154.10 v2" stroke="#6b6b6b" stroke-width="1"/>
<text x="424.50" y="165.20" font-size="9.40" text-anchor="middle" font-weight="normal" fill="#1a1a1a" stroke="#1a1a1a" stroke-width="0.12" >48</text>
<path d="M451.00,154.10 v2" stroke="#6b6b6b" stroke-width="1"/>
<text x="451.00" y="165.20" font-size="9.40" text-anchor="middle" font-weight="normal" fill="#1a1a1a" stroke="#1a1a1a" stroke-width="0.12" >60</text>
<path d="M477.50,154.10 v2" stroke="#6b6b6b" stroke-width="1"/>
<text x="477.50" y="165.20" font-size="9.40" text-anchor="middle" font-weight="normal" fill="#1a1a1a" stroke="#1a1a1a" stroke-width="0.12" >72</text>
<text x="404.20" y="177.60" font-size="10.50" text-anchor="middle" font-weight="bold" fill="#000" >Months</text>
<text x="318.80" y="15.90" font-size="9.20" text-anchor="start" font-weight="normal" fill="#000" stroke="#000" stroke-width="0.12" >B</text>
<text transform="translate(293.90,87.20) rotate(-90)" font-size="10.82" font-weight="bold" text-anchor="middle" fill="#000">Disease-free survival probability</text>
<text x="489.95" y="27.90" font-size="8.62" text-anchor="end" font-weight="normal" fill="#1a1a1a" stroke="#1a1a1a" stroke-width="0.12" >Median DFS (95% CI):</text>
<text x="489.95" y="41.00" font-size="8.62" text-anchor="end" font-weight="normal" fill="#1a1a1a" stroke="#1a1a1a" stroke-width="0.12" >Pn0: 27.02 (22.36 to Inf)</text>
<text x="489.95" y="54.10" font-size="8.62" text-anchor="end" font-weight="normal" fill="#1a1a1a" stroke="#1a1a1a" stroke-width="0.12" >Pn1: 15.67 (13.93 to 17.84)</text>
<text x="489.95" y="67.20" font-size="8.62" text-anchor="end" font-weight="normal" fill="#1a1a1a" stroke="#1a1a1a" stroke-width="0.12" >HR = 2.41, p = 0.001</text>
<rect x="229.70" y="123.20" width="9.6" height="9.4" fill="#F8766D" fill-opacity="0.30"/>
<path d="M229.70,128.00 h9.6" stroke="#F8766D" stroke-width="1.1"/>
<path d="M232.80,128.00h3.40M234.50,126.30v3.40" stroke="#F8766D" stroke-width="0.80"/>
<text x="242.60" y="131.20" font-size="5.95" text-anchor="start" font-weight="normal" fill="#1a1a1a" stroke="#1a1a1a" stroke-width="0.12" >R0 Pn0</text>
<rect x="229.70" y="134.40" width="9.6" height="9.4" fill="#00BFC4" fill-opacity="0.30"/>
<path d="M229.70,139.20 h9.6" stroke="#00BFC4" stroke-width="1.1"/>
<path d="M232.80,139.20h3.40M234.50,137.50v3.40" stroke="#00BFC4" stroke-width="0.80"/>
<text x="242.60" y="142.40" font-size="5.95" text-anchor="start" font-weight="normal" fill="#1a1a1a" stroke="#1a1a1a" stroke-width="0.12" >R0 Pn1</text>
<rect x="513.90" y="123.20" width="9.6" height="9.4" fill="#F8766D" fill-opacity="0.30"/>
<path d="M513.90,128.00 h9.6" stroke="#F8766D" stroke-width="1.1"/>
<path d="M517.00,128.00h3.40M518.70,126.30v3.40" stroke="#F8766D" stroke-width="0.80"/>
<text x="526.50" y="131.20" font-size="5.95" text-anchor="start" font-weight="normal" fill="#1a1a1a" stroke="#1a1a1a" stroke-width="0.12" >R0 Pn0</text>
<rect x="513.90" y="134.40" width="9.6" height="9.4" fill="#00BFC4" fill-opacity="0.30"/>
<path d="M513.90,139.20 h9.6" stroke="#00BFC4" stroke-width="1.1"/>
<path d="M517.00,139.20h3.40M518.70,137.50v3.40" stroke="#00BFC4" stroke-width="0.80"/>
<text x="526.50" y="142.40" font-size="5.95" text-anchor="start" font-weight="normal" fill="#1a1a1a" stroke="#1a1a1a" stroke-width="0.12" >R0 Pn1</text>
<text x="34.60" y="193.60" font-size="6.55" text-anchor="start" font-weight="normal" fill="#1a1a1a" stroke="#1a1a1a" stroke-width="0.12" >Number at risk</text>
<path d="M34.90,198.2 V228" fill="none" stroke="#a8a8a8" stroke-width="1.6"/>
<path d="M34.20,227.5 H207.30" fill="none" stroke="#808080" stroke-width="1.25"/>
<path d="M21.90,207.2 h8.2" stroke-width="2.8" stroke="#F8766D"/>
<path d="M21.90,220.0 h8.2" stroke-width="2.8" stroke="#00BFC4"/>
<text x="40.10" y="209.70" font-size="6.80" text-anchor="middle" font-weight="normal" fill="#1a1a1a" stroke="#1a1a1a" stroke-width="0.12" >29</text>
<text x="40.10" y="222.60" font-size="6.80" text-anchor="middle" font-weight="normal" fill="#1a1a1a" stroke="#1a1a1a" stroke-width="0.12" >294</text>
<path d="M34.60,227.5 v1.6" stroke="#6b6b6b" stroke-width="1"/>
<text x="34.60" y="237.60" font-size="7.30" text-anchor="middle" font-weight="normal" fill="#1a1a1a" stroke="#1a1a1a" stroke-width="0.12" >0</text>
<text x="61.05" y="209.70" font-size="6.80" text-anchor="middle" font-weight="normal" fill="#1a1a1a" stroke="#1a1a1a" stroke-width="0.12" >21</text>
<text x="61.05" y="222.60" font-size="6.80" text-anchor="middle" font-weight="normal" fill="#1a1a1a" stroke="#1a1a1a" stroke-width="0.12" >191</text>
<path d="M61.05,227.5 v1.6" stroke="#6b6b6b" stroke-width="1"/>
<text x="61.05" y="237.60" font-size="7.30" text-anchor="middle" font-weight="normal" fill="#1a1a1a" stroke="#1a1a1a" stroke-width="0.12" >12</text>
<text x="87.50" y="209.70" font-size="6.80" text-anchor="middle" font-weight="normal" fill="#1a1a1a" stroke="#1a1a1a" stroke-width="0.12" >13</text>
<text x="87.50" y="222.60" font-size="6.80" text-anchor="middle" font-weight="normal" fill="#1a1a1a" stroke="#1a1a1a" stroke-width="0.12" >93</text>
<path d="M87.50,227.5 v1.6" stroke="#6b6b6b" stroke-width="1"/>
<text x="87.50" y="237.60" font-size="7.30" text-anchor="middle" font-weight="normal" fill="#1a1a1a" stroke="#1a1a1a" stroke-width="0.12" >24</text>
<text x="113.95" y="209.70" font-size="6.80" text-anchor="middle" font-weight="normal" fill="#1a1a1a" stroke="#1a1a1a" stroke-width="0.12" >8</text>
<text x="113.95" y="222.60" font-size="6.80" text-anchor="middle" font-weight="normal" fill="#1a1a1a" stroke="#1a1a1a" stroke-width="0.12" >57</text>
<path d="M113.95,227.5 v1.6" stroke="#6b6b6b" stroke-width="1"/>
<text x="113.95" y="237.60" font-size="7.30" text-anchor="middle" font-weight="normal" fill="#1a1a1a" stroke="#1a1a1a" stroke-width="0.12" >36</text>
<text x="140.40" y="209.70" font-size="6.80" text-anchor="middle" font-weight="normal" fill="#1a1a1a" stroke="#1a1a1a" stroke-width="0.12" >7</text>
<text x="140.40" y="222.60" font-size="6.80" text-anchor="middle" font-weight="normal" fill="#1a1a1a" stroke="#1a1a1a" stroke-width="0.12" >33</text>
<path d="M140.40,227.5 v1.6" stroke="#6b6b6b" stroke-width="1"/>
<text x="140.40" y="237.60" font-size="7.30" text-anchor="middle" font-weight="normal" fill="#1a1a1a" stroke="#1a1a1a" stroke-width="0.12" >48</text>
<text x="166.85" y="209.70" font-size="6.80" text-anchor="middle" font-weight="normal" fill="#1a1a1a" stroke="#1a1a1a" stroke-width="0.12" >4</text>
<text x="166.85" y="222.60" font-size="6.80" text-anchor="middle" font-weight="normal" fill="#1a1a1a" stroke="#1a1a1a" stroke-width="0.12" >13</text>
<path d="M166.85,227.5 v1.6" stroke="#6b6b6b" stroke-width="1"/>
<text x="166.85" y="237.60" font-size="7.30" text-anchor="middle" font-weight="normal" fill="#1a1a1a" stroke="#1a1a1a" stroke-width="0.12" >60</text>
<text x="193.30" y="209.70" font-size="6.80" text-anchor="middle" font-weight="normal" fill="#1a1a1a" stroke="#1a1a1a" stroke-width="0.12" >1</text>
<text x="193.30" y="222.60" font-size="6.80" text-anchor="middle" font-weight="normal" fill="#1a1a1a" stroke="#1a1a1a" stroke-width="0.12" >8</text>
<path d="M193.30,227.5 v1.6" stroke="#6b6b6b" stroke-width="1"/>
<text x="193.30" y="237.60" font-size="7.30" text-anchor="middle" font-weight="normal" fill="#1a1a1a" stroke="#1a1a1a" stroke-width="0.12" >72</text>
<text x="120.30" y="247.80" font-size="8.30" text-anchor="middle" font-weight="normal" fill="#1a1a1a" stroke="#1a1a1a" stroke-width="0.12" >Months</text>
<text x="318.40" y="193.60" font-size="6.55" text-anchor="start" font-weight="normal" fill="#1a1a1a" stroke="#1a1a1a" stroke-width="0.12" >Number at risk</text>
<path d="M318.70,198.2 V228" fill="none" stroke="#a8a8a8" stroke-width="1.6"/>
<path d="M318.00,227.5 H490.50" fill="none" stroke="#808080" stroke-width="1.25"/>
<path d="M305.70,207.2 h8.2" stroke-width="2.8" stroke="#F8766D"/>
<path d="M305.70,220.0 h8.2" stroke-width="2.8" stroke="#00BFC4"/>
<text x="323.90" y="209.70" font-size="6.80" text-anchor="middle" font-weight="normal" fill="#1a1a1a" stroke="#1a1a1a" stroke-width="0.12" >29</text>
<text x="323.90" y="222.60" font-size="6.80" text-anchor="middle" font-weight="normal" fill="#1a1a1a" stroke="#1a1a1a" stroke-width="0.12" >294</text>
<path d="M318.40,227.5 v1.6" stroke="#6b6b6b" stroke-width="1"/>
<text x="318.40" y="237.60" font-size="7.30" text-anchor="middle" font-weight="normal" fill="#1a1a1a" stroke="#1a1a1a" stroke-width="0.12" >0</text>
<text x="344.85" y="209.70" font-size="6.80" text-anchor="middle" font-weight="normal" fill="#1a1a1a" stroke="#1a1a1a" stroke-width="0.12" >20</text>
<text x="344.85" y="222.60" font-size="6.80" text-anchor="middle" font-weight="normal" fill="#1a1a1a" stroke="#1a1a1a" stroke-width="0.12" >160</text>
<path d="M344.85,227.5 v1.6" stroke="#6b6b6b" stroke-width="1"/>
<text x="344.85" y="237.60" font-size="7.30" text-anchor="middle" font-weight="normal" fill="#1a1a1a" stroke="#1a1a1a" stroke-width="0.12" >12</text>
<text x="371.30" y="209.70" font-size="6.80" text-anchor="middle" font-weight="normal" fill="#1a1a1a" stroke="#1a1a1a" stroke-width="0.12" >11</text>
<text x="371.30" y="222.60" font-size="6.80" text-anchor="middle" font-weight="normal" fill="#1a1a1a" stroke="#1a1a1a" stroke-width="0.12" >63</text>
<path d="M371.30,227.5 v1.6" stroke="#6b6b6b" stroke-width="1"/>
<text x="371.30" y="237.60" font-size="7.30" text-anchor="middle" font-weight="normal" fill="#1a1a1a" stroke="#1a1a1a" stroke-width="0.12" >24</text>
<text x="397.75" y="209.70" font-size="6.80" text-anchor="middle" font-weight="normal" fill="#1a1a1a" stroke="#1a1a1a" stroke-width="0.12" >6</text>
<text x="397.75" y="222.60" font-size="6.80" text-anchor="middle" font-weight="normal" fill="#1a1a1a" stroke="#1a1a1a" stroke-width="0.12" >35</text>
<path d="M397.75,227.5 v1.6" stroke="#6b6b6b" stroke-width="1"/>
<text x="397.75" y="237.60" font-size="7.30" text-anchor="middle" font-weight="normal" fill="#1a1a1a" stroke="#1a1a1a" stroke-width="0.12" >36</text>
<text x="424.20" y="209.70" font-size="6.80" text-anchor="middle" font-weight="normal" fill="#1a1a1a" stroke="#1a1a1a" stroke-width="0.12" >5</text>
<text x="424.20" y="222.60" font-size="6.80" text-anchor="middle" font-weight="normal" fill="#1a1a1a" stroke="#1a1a1a" stroke-width="0.12" >21</text>
<path d="M424.20,227.5 v1.6" stroke="#6b6b6b" stroke-width="1"/>
<text x="424.20" y="237.60" font-size="7.30" text-anchor="middle" font-weight="normal" fill="#1a1a1a" stroke="#1a1a1a" stroke-width="0.12" >48</text>
<text x="450.65" y="209.70" font-size="6.80" text-anchor="middle" font-weight="normal" fill="#1a1a1a" stroke="#1a1a1a" stroke-width="0.12" >2</text>
<text x="450.65" y="222.60" font-size="6.80" text-anchor="middle" font-weight="normal" fill="#1a1a1a" stroke="#1a1a1a" stroke-width="0.12" >8</text>
<path d="M450.65,227.5 v1.6" stroke="#6b6b6b" stroke-width="1"/>
<text x="450.65" y="237.60" font-size="7.30" text-anchor="middle" font-weight="normal" fill="#1a1a1a" stroke="#1a1a1a" stroke-width="0.12" >60</text>
<text x="477.10" y="209.70" font-size="6.80" text-anchor="middle" font-weight="normal" fill="#1a1a1a" stroke="#1a1a1a" stroke-width="0.12" >0</text>
<text x="477.10" y="222.60" font-size="6.80" text-anchor="middle" font-weight="normal" fill="#1a1a1a" stroke="#1a1a1a" stroke-width="0.12" >6</text>
<path d="M477.10,227.5 v1.6" stroke="#6b6b6b" stroke-width="1"/>
<text x="477.10" y="237.60" font-size="7.30" text-anchor="middle" font-weight="normal" fill="#1a1a1a" stroke="#1a1a1a" stroke-width="0.12" >72</text>
<text x="404.10" y="247.80" font-size="8.30" text-anchor="middle" font-weight="normal" fill="#1a1a1a" stroke="#1a1a1a" stroke-width="0.12" >Months</text>
</svg></body></html>
